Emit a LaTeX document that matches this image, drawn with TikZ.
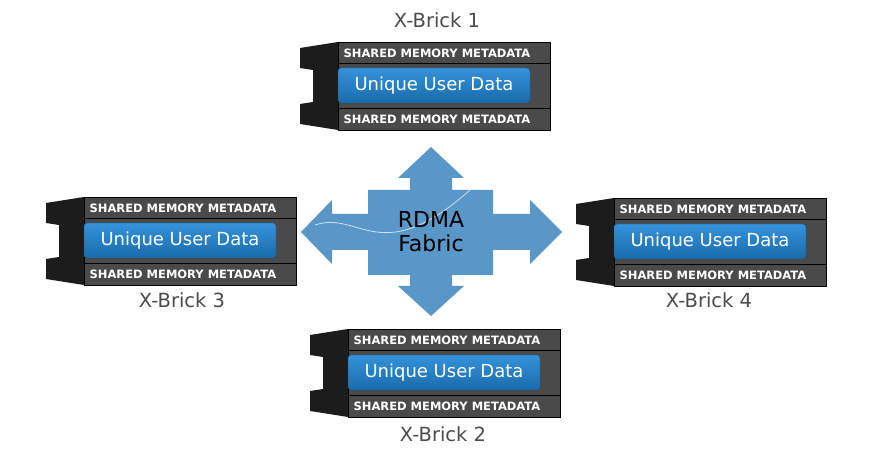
\documentclass[tikz,border=0pt]{standalone}
\usepackage{fontspec}
\setmainfont{DejaVu Sans}
\usetikzlibrary{positioning}
\definecolor{meshgray}{HTML}{4A4A4A}
\definecolor{eardark}{HTML}{1C1C1C}
\definecolor{btnblue}{HTML}{1F86D6}
\definecolor{fabricblue}{HTML}{3C85C0}

\tikzset{
  band/.style={fill=meshgray, draw=black, line width=0.8pt},
  meta/.style={text=white, font=\bfseries\fontsize{11.5}{12}\selectfont, inner sep=0pt},
  button/.style={rounded corners=3pt, top color=btnblue!90!white, bottom color=btnblue!80!black,
    draw=btnblue!60!black, text=white, font=\fontsize{18}{20}\selectfont,
    minimum width=192pt, minimum height=35pt},
  caption/.style={text=black!70, font=\fontsize{19.5}{22}\selectfont}
}

% one brick, top left corner at (#1,#2), named #3
\newcommand{\xbrick}[3]{
  \begin{scope}[shift={(#1,#2)}]
    \fill[eardark] (0,-6) -- (38,0) -- (38,-88) -- (0,-82) -- (0,-62) -- (13,-60)
      -- (13,-28) -- (0,-26) -- cycle;
    \draw[band] (38,0) rectangle (250,-21);
    \draw[band] (38,-21) rectangle (250,-66);
    \draw[band] (38,-66) rectangle (250,-88);
    \node[meta] (#3top) at (137,-11) {SHARED MEMORY METADATA};
    \node[button] (#3data) at (134,-43.5) {Unique User Data};
    \node[meta] (#3bot) at (137,-77) {SHARED MEMORY METADATA};
  \end{scope}
}

\begin{document}
\begin{tikzpicture}[x=1pt,y=1pt]
  \useasboundingbox[fill=white] (0,0) rectangle (876,-462);

  % fabric
  \fill[fabricblue!85] (301,-232) -- (332,-200) -- (332,-214) -- (368,-214) -- (368,-190)
    -- (410,-190) -- (410,-178) -- (398,-178) -- (431,-147) -- (464,-178) -- (452,-178)
    -- (452,-190) -- (493,-190) -- (493,-214) -- (530,-214) -- (530,-200) -- (562,-232)
    -- (530,-264) -- (530,-250) -- (493,-250) -- (493,-275) -- (452,-275) -- (452,-286)
    -- (464,-286) -- (431,-316) -- (398,-286) -- (410,-286) -- (410,-275) -- (368,-275)
    -- (368,-250) -- (332,-250) -- (332,-264) -- cycle;
  \draw[white, opacity=0.7, thick] (315,-225) .. controls (360,-210) and (380,-270) .. (470,-190);
  \node[align=center, font=\fontsize{22}{24}\selectfont, inner sep=0pt] (fabric) at (431,-232) {RDMA\\Fabric};

  \xbrick{300}{-42}{one}
  \xbrick{46}{-197}{three}
  \xbrick{576}{-198}{four}
  \xbrick{310}{-329}{two}

  \node[caption] (cap1) at (437,-20) {X-Brick 1};
  \node[caption] (cap3) at (182,-300) {X-Brick 3};
  \node[caption] (cap4) at (709,-300) {X-Brick 4};
  \node[caption] (cap2) at (443,-434) {X-Brick 2};
\end{tikzpicture}
\end{document}
